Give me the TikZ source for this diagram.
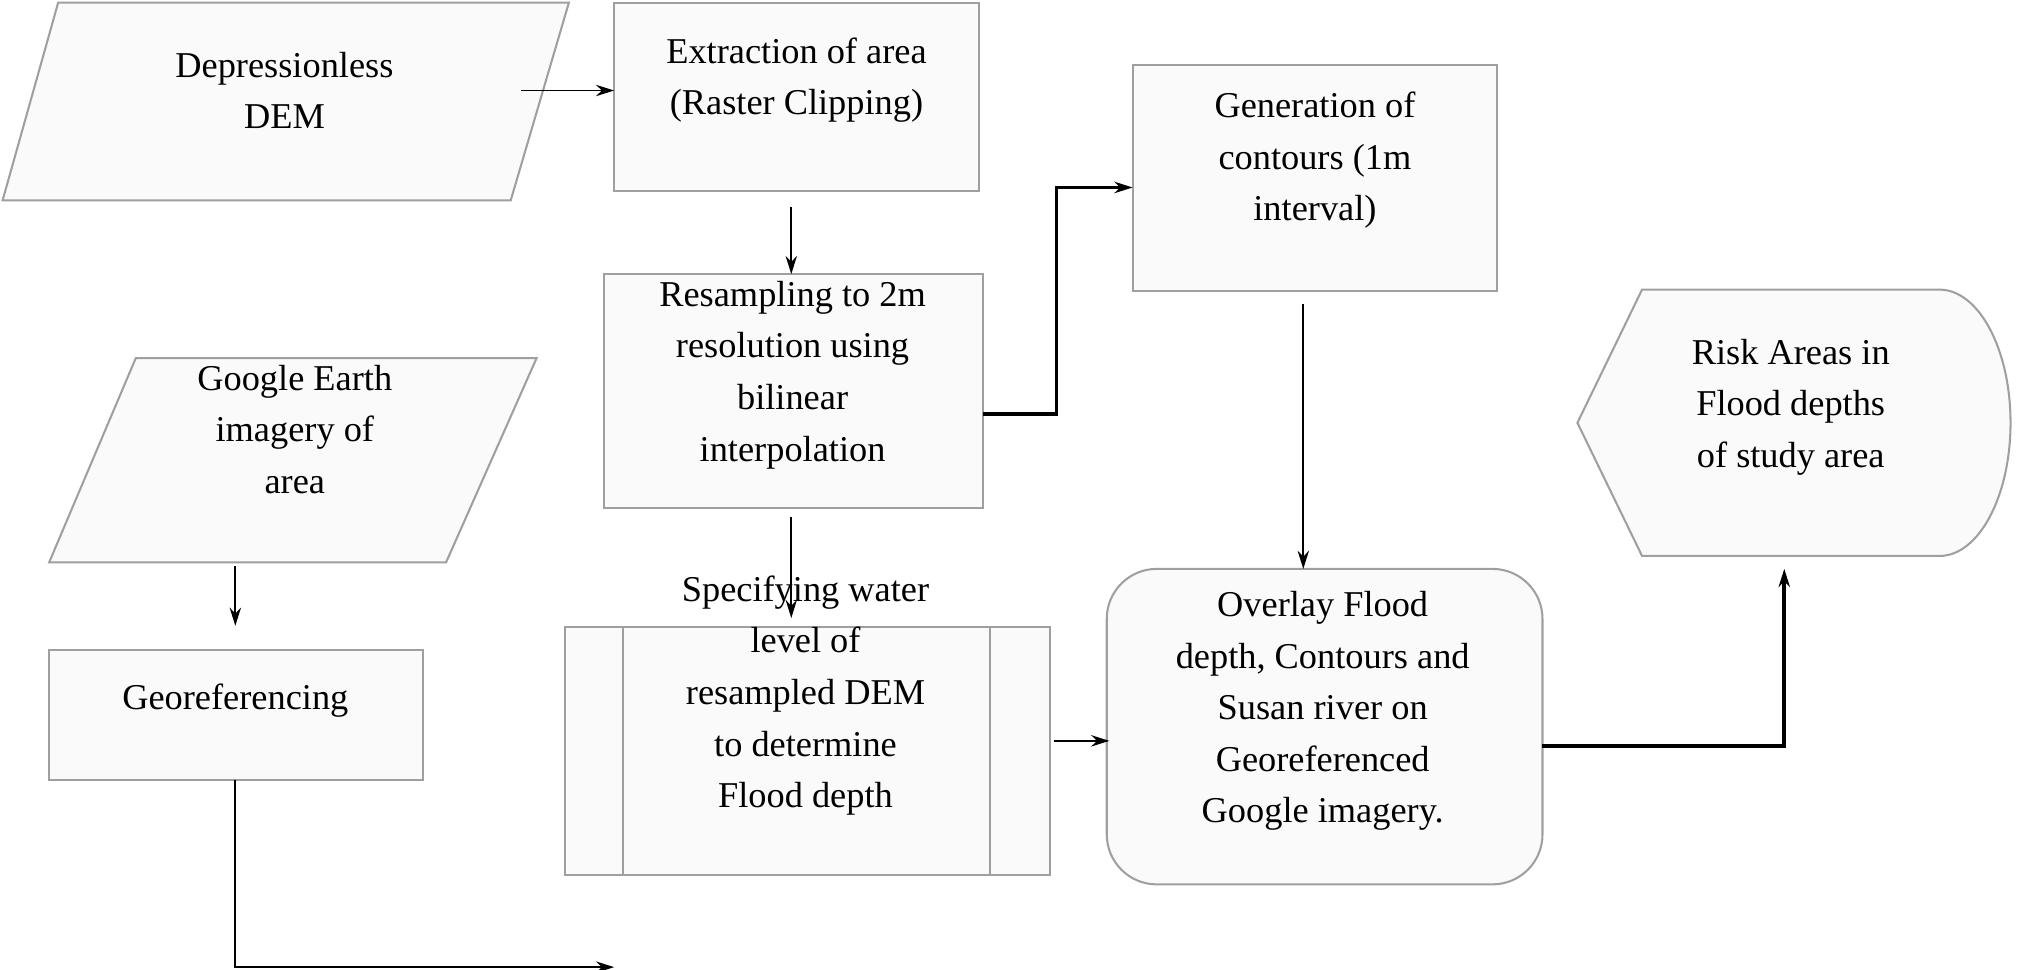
\documentclass[tikz,border=0pt]{standalone}
\usepackage{fontspec}
\setmainfont{Liberation Serif}
\usetikzlibrary{arrows.meta}
\begin{document}
\begin{tikzpicture}[x=0.02cm,y=-0.02cm,
  shp/.style={draw=gray!75,fill=gray!4,line width=0.9pt},
  txt/.style={align=center,font=\fontsize{16}{22.7}\selectfont,inner sep=0pt},
  arr/.style={-{Stealth[length=8pt,width=5pt]},line width=0.8pt},
  tarr/.style={-{Stealth[length=8pt,width=5pt]},line width=1.6pt}]
\useasboundingbox (0,0) rectangle (1560,750);
% shapes
\draw[shp] (45,2) -- (440,2) -- (395,155) -- (2,155) -- cycle;
\draw[shp] (475,2) rectangle (757,148);
\draw[shp] (467,212) rectangle (760,393);
\draw[shp] (876,50) rectangle (1158,225);
\draw[shp] (105,277) -- (415,277) -- (345,435) -- (38,435) -- cycle;
\draw[shp] (38,503) rectangle (327,603);
\draw[shp] (437,485) rectangle (812,677);
\draw[gray!75,line width=0.9pt] (482,485) -- (482,677) (766,485) -- (766,677);
\draw[shp,rounded corners=22] (856,440) rectangle (1193,684);
\draw[shp] (1220,327) -- (1270,224) -- (1500,224) arc[start angle=90,end angle=-90,x radius=55,y radius=-103] -- (1270,430) -- cycle;
% texts
\node[txt] (dem) at (220,70) {Depressionless\\DEM};
\node[txt] (ext) at (616,62) {Extraction of area\\(Raster Clipping)};
\node[txt] (res) at (613,290) {Resampling to 2m\\resolution using\\bilinear\\interpolation};
\node[txt] (gen) at (1017,124) {Generation of\\contours (1m\\interval)};
\node[txt] (ge) at (228,332) {Google Earth\\imagery of\\area};
\node[txt] (geo) at (182,542) {Georeferencing};
\node[txt] (spe) at (623,538) {Specifying water\\level of\\resampled DEM\\to determine\\Flood depth};
\node[txt] (ovl) at (1023,550) {Overlay Flood\\depth, Contours and\\Susan river on\\Georeferenced\\Google imagery.};
\node[txt] (risk) at (1385,315) {Risk Areas in\\Flood depths\\of study area};
% connectors
\coordinate (a1) at (403,70); \coordinate (a2) at (475,70);
\draw[arr] (a1) -- (a2);
\coordinate (b1) at (612,160); \coordinate (b2) at (612,212);
\draw[arr] (b1) -- (b2);
\coordinate (c1) at (760,320); \coordinate (c2) at (876,145);
\draw[tarr] (c1) -- (817,320) -- (817,145) -- (c2);
\coordinate (d1) at (182,438); \coordinate (d2) at (182,484);
\draw[arr] (d1) -- (d2);
\coordinate (e1) at (182,603); \coordinate (e2) at (475,748);
\draw[arr] (e1) -- (182,748) -- (e2);
\coordinate (f1) at (612,400); \coordinate (f2) at (612,478);
\draw[arr] (f1) -- (f2);
\coordinate (g1) at (815,573); \coordinate (g2) at (858,573);
\draw[arr] (g1) -- (g2);
\coordinate (h1) at (1008,235); \coordinate (h2) at (1008,440);
\draw[arr] (h1) -- (h2);
\coordinate (i1) at (1193,577); \coordinate (i2) at (1380,440);
\draw[tarr] (i1) -- (1380,577) -- (i2);
\end{tikzpicture}
\end{document}
